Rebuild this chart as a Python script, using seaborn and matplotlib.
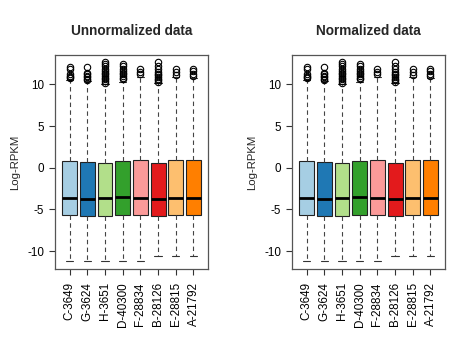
import numpy as np
import pandas as pd
import matplotlib
matplotlib.use("Agg")
import matplotlib.pyplot as plt
import seaborn as sns

samples = ["C-3649", "G-3624", "H-3651", "D-40300", "F-28834", "B-28126", "E-28815", "A-21792"]
whisker_low = [-11.16, -11.16, -11.16, -11.16, -11.16, -10.6, -10.6, -10.6]
q1_vals = [-5.72, -5.82, -5.75, -5.72, -5.70, -5.82, -5.72, -5.72]
median_vals = [-3.67, -3.76, -3.67, -3.52, -3.64, -3.76, -3.60, -3.60]
q3_vals = [0.80, 0.68, 0.60, 0.77, 0.95, 0.60, 0.95, 0.88]
whisker_high = [10.55, 10.40, 10.05, 10.30, 10.90, 10.20, 10.90, 10.75]
outliers = [
    [12.1, 11.85, 11.2, 11.05, 10.9, 10.8],
    [12.1, 11.4, 11.2, 11.0, 10.85, 10.7, 10.55],
    [12.7, 12.45, 12.2, 11.9, 11.6, 11.4, 11.2, 11.0, 10.8, 10.6, 10.4, 10.2],
    [12.45, 12.2, 11.9, 11.6, 11.4, 11.2, 11.0, 10.8, 10.6],
    [11.8, 11.5, 11.2],
    [12.65, 12.2, 11.8, 11.5, 11.3, 11.1, 10.9, 10.7, 10.5, 10.3],
    [11.85, 11.45, 11.1],
    [11.85, 11.6, 11.25, 11.0],
]
box_colors = ["#A6CEE3", "#1F78B4", "#B2DF8A", "#33A02C", "#FB9A99", "#E31A1C", "#FDBF6F", "#FF7F00"]
panel_titles = ["Unnormalized data", "Normalized data"]
y_ticks = [-10, -5, 0, 5, 10]


def build_frame():
    rows = []
    for i, s in enumerate(samples):
        vals = ([whisker_low[i]] + [q1_vals[i]] * 30 + [median_vals[i]] * 30
                + [q3_vals[i]] * 30 + [whisker_high[i]] + list(outliers[i]))
        rows += [(s, v) for v in vals]
    return pd.DataFrame(rows, columns=["sample", "value"])


sns.set_style("white")
plt.rcParams["font.family"] = ["Liberation Sans", "DejaVu Sans"]

fig = plt.figure(figsize=(4.74, 3.38), dpi=100)
ax_w = 153 / 474
ax_h = 214 / 338
bottom = 69 / 338
lefts = [55 / 474, 292 / 474]

df = build_frame()
for k in range(2):
    ax = fig.add_axes([lefts[k], bottom, ax_w, ax_h])
    sns.boxplot(data=df, x="sample", y="value", hue="sample", order=samples,
                palette=box_colors, saturation=1, legend=False, width=0.84, whis=1.5, ax=ax,
                linecolor="#222222", linewidth=0.8, fliersize=4.6,
                medianprops={"color": "black", "linewidth": 2.0},
                whiskerprops={"linestyle": (0, (4, 3)), "linewidth": 0.8, "color": "#444444"},
                capprops={"linewidth": 0.8, "color": "#333333"},
                flierprops={"marker": "o", "markerfacecolor": "none",
                            "markeredgecolor": "black", "markeredgewidth": 0.8})
    ax.set_xlim(-0.82, 7.82)
    ax.set_ylim(-12.16, 13.54)
    ax.set_yticks(y_ticks)
    ax.set_yticklabels([str(t) for t in y_ticks])
    ax.set_xticks(range(len(samples)))
    ax.set_xticklabels(samples, rotation=90)
    ax.set_xlabel("")
    ax.set_ylabel("Log-RPKM", fontsize=8.2, labelpad=5)
    ax.set_title(panel_titles[k], fontsize=9.8, fontweight="bold", pad=14.5)
    ax.tick_params(axis="both", direction="out", length=4.5, width=0.8,
                   colors="#333333", labelsize=8.4, labelcolor="black", pad=3.5,
                   left=True, bottom=True)
    ax.tick_params(axis="x", pad=5)
    for sp in ax.spines.values():
        sp.set_visible(True)
        sp.set_color("#555555")
        sp.set_linewidth(0.9)

fig.savefig("out.png", dpi=100)
